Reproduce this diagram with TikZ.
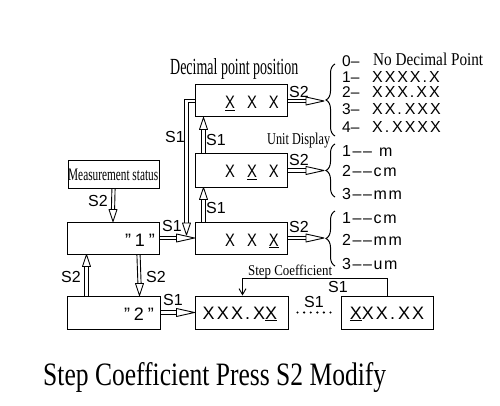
\documentclass[tikz,border=0pt]{standalone}
\usepackage{graphicx}
\usepackage{fontspec}
\setmainfont{Liberation Sans}
\newfontfamily\cserif{Liberation Serif}
\newfontfamily\nsans[FakeStretch=0.82]{Liberation Sans}
\newfontfamily\spsans[LetterSpace=12]{Liberation Sans}
\newfontfamily\wsans[LetterSpace=10]{Liberation Sans}
\usetikzlibrary{arrows.meta,decorations.pathreplacing}
\newcommand\condtxt[3]{\resizebox{#1pt}{#2pt}{\cserif #3}}
\newcommand\xxx[3]{#1\hspace{12pt}#2\hspace{12pt}#3}
\newcommand\hshaft[2]{\draw[sh] ([yshift=1.6pt]#1) -- ([yshift=1.6pt]#2);\draw[sh] ([yshift=-1.6pt]#1) -- ([yshift=-1.6pt]#2);}
\newcommand\vshaft[2]{\draw[sh] ([xshift=1.6pt]#1) -- ([xshift=1.6pt]#2);\draw[sh] ([xshift=-1.6pt]#1) -- ([xshift=-1.6pt]#2);}
\newcommand\htip[2]{\draw[tipl] ([yshift=4pt]#1) -- (#2) -- ([yshift=-4pt]#1) -- cycle;}
\newcommand\vtip[2]{\draw[tipl] ([xshift=4pt]#1) -- (#2) -- ([xshift=-4pt]#1) -- cycle;}
\tikzset{
  box/.style={draw, line width=1pt, minimum width=92pt, minimum height=32pt, inner sep=0pt},
  lab/.style={font=\fontsize{16}{18}\selectfont, inner sep=0pt},
  big/.style={font=\fontsize{18}{20}\nsans, inner sep=0pt, anchor=base},
  item/.style={font=\fontsize{15.5}{17}\selectfont, inner sep=0pt, anchor=base west},
  ctxt/.style={inner sep=0pt, anchor=base west},
  sh/.style={line width=0.9pt},
  tipl/.style={line width=0.9pt, line join=round},
  brc/.style={decorate, decoration={brace, amplitude=9pt}, line width=1pt},
  fb/.style={line width=0.9pt, -{Straight Barb[length=6pt, width=7pt]}},
}
\begin{document}
\begin{tikzpicture}[x=1pt, y=-1pt]
\useasboundingbox (0,0) rectangle (500,406);

% boxes
\node[box] (top) at (241,101) {};
\node[box, minimum height=33pt] (unit) at (241,170.5) {};
\node[box] (third) at (241,238) {};
\node[box, minimum width=91pt, minimum height=27pt] (meas) at (113.5,174.5) {};
\node[box] (one) at (113,238) {};
\node[box, minimum width=93pt, minimum height=33pt] (two) at (113.5,312.5) {};
\node[box, minimum width=93pt, minimum height=33pt] (sc1) at (241.5,312.5) {};
\node[box, minimum height=33pt] (sc2) at (387,312.5) {};

% box texts
\node[big] (topt) at (252,109) {\xxx{\underline{X}}{X}{X}};
\node[big] (unitt) at (252,178) {\xxx{X}{\underline{X}}{X}};
\node[big] (thirdt) at (252,246) {\xxx{X}{X}{\underline{X}}};
\node[big, font=\fontsize{18}{20}\selectfont] (onet) at (140,246) {"\hspace{4pt}1\hspace{4pt}"};
\node[big, font=\fontsize{18}{20}\selectfont] (twot) at (139,320) {"\hspace{4pt}2\hspace{4pt}"};
\node[big, font=\fontsize{18}{20}\spsans] (sc1t) at (240,319) {XXX.\hspace{3pt}X\underline{X}};
\node[big, font=\fontsize{18}{20}\spsans] (sc2t) at (387,319) {\underline{X}XX.\hspace{3pt}XX};
\node[ctxt] (meast) at (68,180) {\condtxt{90}{11.5}{Measurement status}};

% titles
\node[ctxt] (dpp) at (170,75) {\condtxt{128}{16}{Decimal point position}};
\node[ctxt] (ud) at (267,144) {\condtxt{63}{11.5}{Unit Display}};
\node[ctxt] (stc) at (248,275) {\condtxt{84}{10.5}{Step Coefficient}};
\node[ctxt] (bottom) at (43,385) {\condtxt{343}{23}{Step Coefficient Press S2 Modify}};

% decimal list
\node[item] (d0) at (342,67) {0–};
\node[ctxt] (d0t) at (373,66) {\condtxt{110}{12.5}{No Decimal Point}};
\node[item] (d1) at (342,82.5) {1–};
\node[item] (d2) at (342,98) {2–};
\node[item] (d3) at (342,115) {3–};
\node[item] (d4) at (342,133) {4–};
\node[item, font=\fontsize{16}{18}\spsans] (d1t) at (372,82.5) {XXXX.\hspace{2pt}X};
\node[item, font=\fontsize{16}{18}\spsans] (d2t) at (372,98) {XXX.\hspace{2pt}XX};
\node[item, font=\fontsize{16}{18}\spsans] (d3t) at (372,115) {XX.\hspace{3pt}XXX};
\node[item, font=\fontsize{16}{18}\spsans] (d4t) at (372,133) {X.\hspace{3pt}XXXX};

% unit list
\node[item, font=\fontsize{16}{18}\wsans] (u1) at (342,157) {1––\hspace{7pt}m};
\node[item, font=\fontsize{16}{18}\wsans] (u2) at (342,177) {2––cm};
\node[item, font=\fontsize{16}{18}\wsans] (u3) at (342,200) {3––mm};
\node[item, font=\fontsize{16}{18}\wsans] (v1) at (342,223) {1––cm};
\node[item, font=\fontsize{16}{18}\wsans] (v2) at (342,245) {2––mm};
\node[item, font=\fontsize{16}{18}\wsans] (v3) at (342,269) {3––um};

% braces
\coordinate (b1a) at (335,136);
\coordinate (b1b) at (335,64);
\coordinate (b2a) at (335,197);
\coordinate (b2b) at (335,144);
\coordinate (b3a) at (335,266);
\coordinate (b3b) at (335,211);
\draw[brc] (b1a) -- (b1b);
\draw[brc] (b2a) -- (b2b);
\draw[brc] (b3a) -- (b3b);
\coordinate (t1) at (324,101);
\coordinate (t2) at (324,170.5);
\coordinate (t3) at (324,238);

% horizontal double arrows
\coordinate (t1b) at ([xshift=-18pt]t1);
\coordinate (t2b) at ([xshift=-18pt]t2);
\coordinate (t3b) at ([xshift=-18pt]t3);
\coordinate (thb) at ([xshift=-18pt]third.west);
\coordinate (s1b) at ([xshift=-18pt]sc1.west);
\hshaft{top.east}{t1b} \htip{t1b}{t1}
\hshaft{unit.east}{t2b} \htip{t2b}{t2}
\hshaft{third.east}{t3b} \htip{t3b}{t3}
\hshaft{one.east}{thb} \htip{thb}{third.west}
\hshaft{two.east}{s1b} \htip{s1b}{sc1.west}

% vertical double arrows
\coordinate (onb) at ([yshift=12pt]one.north);
\vshaft{meas.south}{onb} \vtip{onb}{one.north}

\coordinate (lend) at (186.5,235);
\coordinate (lendb) at ([yshift=12pt]lend);
\draw[sh] ([yshift=1.6pt]top.west) -| ([xshift=-1.6pt]lendb);
\draw[sh] ([yshift=-1.6pt]top.west) -| ([xshift=1.6pt]lendb);
\vtip{lendb}{lend}

\coordinate (ts) at ([xshift=9pt]third.north west);
\coordinate (ue) at ([xshift=9pt]unit.south west);
\coordinate (ub) at ([xshift=9pt, yshift=-12pt]unit.south west);
\vshaft{ts}{ub} \vtip{ub}{ue}

\coordinate (us) at ([xshift=9pt]unit.north west);
\coordinate (tpe) at ([xshift=9pt]top.south west);
\coordinate (tpb) at ([xshift=9pt, yshift=-12pt]top.south west);
\vshaft{us}{tpb} \vtip{tpb}{tpe}

\coordinate (tws) at ([xshift=20pt]two.north west);
\coordinate (o1e) at ([xshift=20pt]one.south west);
\coordinate (o1b) at ([xshift=20pt, yshift=-12pt]one.south west);
\vshaft{tws}{o1b} \vtip{o1b}{o1e}

\coordinate (o2s) at ([xshift=-21pt]one.south east);
\coordinate (w2e) at ([xshift=-21pt]two.north east);
\coordinate (w2b) at ([xshift=-21pt, yshift=12pt]two.north east);
\vshaft{o2s}{w2b} \vtip{w2b}{w2e}

% dotted link and feedback
\draw[line width=2.4pt, line cap=round, dash pattern=on 0pt off 6.6pt] ([xshift=9pt]sc1.east) -- ([xshift=-8pt]sc2.west);
\draw[fb] (sc2.north) -- ++(0,-17) -| ([xshift=48pt]sc1.north west);

% labels
\node[lab] (ls1) at (299,92) {S2};
\node[lab] (ls2) at (299,160) {S2};
\node[lab] (ls3) at (299,227) {S2};
\node[lab] (ls4) at (175,137) {S1};
\node[lab] (ls5) at (216,140) {S1};
\node[lab] (ls6) at (216,208) {S1};
\node[lab] (ls7) at (172,226) {S1};
\node[lab] (ls8) at (98,201) {S2};
\node[lab] (ls9) at (71,277) {S2};
\node[lab] (ls10) at (156,277) {S2};
\node[lab] (ls11) at (173,300) {S1};
\node[lab] (ls12) at (314,302) {S1};
\node[lab] (ls13) at (338,287) {S1};
\end{tikzpicture}
\end{document}
